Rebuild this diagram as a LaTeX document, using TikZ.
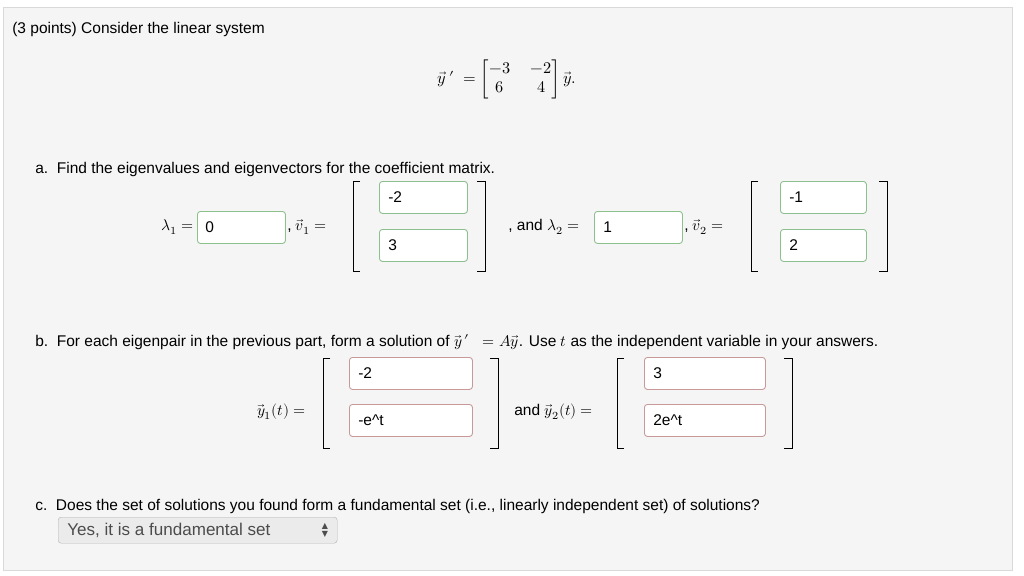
\documentclass[tikz,border=0pt]{standalone}
\usepackage{amsmath}
\usepackage{fontspec}
\setmainfont{Liberation Sans}
\newfontfamily\djv{DejaVu Sans}
\usepackage{unicode-math}
\setmathfont{Latin Modern Math}
\begin{document}
\begin{tikzpicture}[x=1pt,y=-1pt,
  txt/.style={anchor=west,inner sep=0pt,font=\fontsize{10}{12}\selectfont,scale=1.55,transform shape},
  gbox/.style={draw=green!45!black!45!white,line width=0.9pt,fill=white,rounded corners=3pt,anchor=north west,minimum height=32pt,inner sep=0pt},
  rbox/.style={draw=red!45!black!40!white,line width=0.9pt,fill=white,rounded corners=3pt,anchor=north west,minimum height=32pt,inner sep=0pt},
  brk/.style={line width=1pt}]
\useasboundingbox (0,0) rectangle (1024,575);
\fill[white] (0,0) rectangle (1024,575);
\draw[fill=black!4,draw=black!15] (3,7) rectangle (1012,570);
\node[txt] (t0) at (12,29) {(3 points) Consider the linear system};
\node[txt,anchor=center,scale=1.05] (eq) at (507,79) {$\vec{y}\,'\ =\begin{bmatrix}-3 & \ -2\\ 6 & \ 4\end{bmatrix}\vec{y}.$};
\node[txt] (ta) at (35,169) {a.\ \ Find the eigenvalues and eigenvectors for the coefficient matrix.};
% part a
\node[txt,anchor=east] (l1) at (194,227) {$\lambda_1=$};
\node[gbox,minimum width=88pt] (b1) at (197,211) {};
\node[txt] at (205,227) {0};
\node[txt] (v1) at (287,227) {, $\vec{v}_1=$};
\draw[brk] (360,181) -- (353,181) -- (353,271) -- (360,271);
\node[gbox,minimum width=88pt] (b2) at (379,181) {};\node[txt] at (388,197) {-2};
\node[gbox,minimum width=88pt] (b3) at (379,229) {};\node[txt] at (388,245) {3};
\draw[brk] (477,181) -- (485,181) -- (485,271) -- (477,271);
\node[txt] (l2) at (508,227) {, and $\lambda_2=$};
\node[gbox,minimum width=88pt] (b4) at (594,211) {};\node[txt] at (603,227) {1};
\node[txt] (v2) at (684,227) {, $\vec{v}_2=$};
\draw[brk] (758,181) -- (751,181) -- (751,271) -- (758,271);
\node[gbox,minimum width=86pt] (b5) at (780,181) {};\node[txt] at (789,197) {-1};
\node[gbox,minimum width=86pt] (b6) at (780,229) {};\node[txt] at (789,245) {2};
\draw[brk] (879,181) -- (887,181) -- (887,271) -- (879,271);
% part b
\node[txt] (tb) at (35,342) {b.\ \ For each eigenpair in the previous part, form a solution of $\vec{y}\,'\ \ =A\vec{y}$. Use $t$ as the independent variable in your answers.};
\node[txt,anchor=east] (y1) at (306,412) {$\vec{y}_1(t)=$};
\draw[brk] (330,358) -- (323,358) -- (323,448) -- (330,448);
\node[rbox,minimum width=123pt] (r1) at (349,357) {};\node[txt] at (358,373) {-2};
\node[rbox,minimum width=123pt] (r2) at (349,404) {};\node[txt] at (358,420) {-e\^{}t};
\draw[brk] (490,358) -- (498,358) -- (498,448) -- (490,448);
\node[txt] (y2) at (514,412) {and $\vec{y}_2(t)=$};
\draw[brk] (624,358) -- (617,358) -- (617,448) -- (624,448);
\node[rbox,minimum width=121pt] (r3) at (644,357) {};\node[txt] at (653,373) {3};
\node[rbox,minimum width=121pt] (r4) at (644,404) {};\node[txt] at (653,420) {2e\^{}t};
\draw[brk] (784,358) -- (792,358) -- (792,448) -- (784,448);
% part c
\node[txt] (tc) at (35,506) {c.\ \ Does the set of solutions you found form a fundamental set (i.e., linearly independent set) of solutions?};
\node[draw=black!30,fill=black!8,rounded corners=3pt,anchor=north west,minimum width=279pt,minimum height=26pt,inner sep=0pt] (dd) at (58,517) {};
\node[txt,text=black!70,scale=1.1] at (67,530) {Yes, it is a fundamental set};
\node[inner sep=0pt,font=\djv\fontsize{8}{8}\selectfont,text=black!70] at (325,526) {▲};
\node[inner sep=0pt,font=\djv\fontsize{8}{8}\selectfont,text=black!70] at (325,534) {▼};
\end{tikzpicture}
\end{document}
